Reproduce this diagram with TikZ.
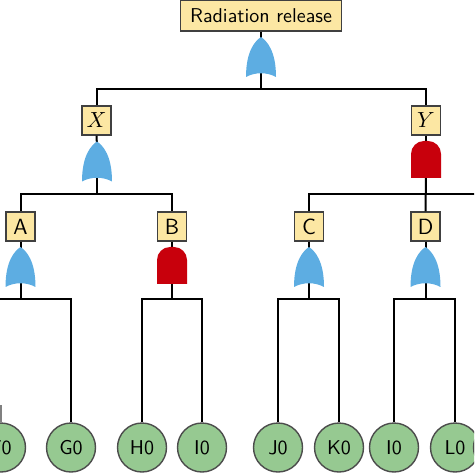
\documentclass[tikz,border=0pt]{standalone}
\definecolor{boxyellow}{RGB}{252,231,163}
\definecolor{orblue}{RGB}{93,173,226}
\definecolor{andred}{RGB}{200,0,12}
\definecolor{leafgreen}{RGB}{150,201,145}
\tikzset{
  event/.style={draw=black!75,fill=boxyellow,line width=0.7pt,minimum width=14.5pt,minimum height=14.5pt,inner sep=2pt,font=\sffamily\fontsize{11}{13}\selectfont},
  leaf/.style={circle,draw=black!70,fill=leafgreen,line width=0.7pt,minimum size=24.5pt,inner sep=0pt,font=\sffamily},
  orgate/.pic={\fill[orblue] (-7.5pt,-10pt) .. controls (-7.5pt,3pt) and (-3pt,8pt) .. (0pt,10pt) .. controls (3pt,8pt) and (7.5pt,3pt) .. (7.5pt,-10pt) .. controls (3pt,-7.5pt) and (-3pt,-7.5pt) .. (-7.5pt,-10pt) -- cycle;},
  andgate/.pic={\fill[andred] (-7.5pt,-9.25pt) -- (-7.5pt,2.75pt) arc[start angle=180,end angle=90,radius=6.5pt] -- (1pt,9.25pt) arc[start angle=90,end angle=0,radius=6.5pt] -- (7.5pt,-9.25pt) -- cycle;}
}
\begin{document}
\begin{tikzpicture}[x=0.5pt,y=-0.5pt,line width=1pt]
  \useasboundingbox (0,0) rectangle (474,474);
  \clip (0,0) rectangle (474,474);
  \node[event,minimum width=80.5pt,minimum height=15.5pt,font=\sffamily] (R) at (261,15.5) {Radiation release};
  \node[event] (X) at (96.5,120.5) {$X$};
  \node[event] (Y) at (426,120.5) {$Y$};
  \node[event] (A) at (20.5,226.5) {A};
  \node[event] (B) at (172,226.5) {B};
  \node[event] (C) at (309,226.5) {C};
  \node[event] (D) at (425.5,226.5) {D};
  \coordinate (gR) at (261,57);
  \coordinate (gX) at (97,161.5);
  \coordinate (gY) at (426,159.5);
  \coordinate (gA) at (20.5,267);
  \coordinate (gB) at (172,265.5);
  \coordinate (gC) at (309,267);
  \coordinate (gD) at (425.5,267);
  \node[leaf] (F0) at (1,447.5) {F0};
  \node[leaf] (G0) at (71,447.5) {G0};
  \node[leaf] (H0) at (142,447.5) {H0};
  \node[leaf] (I0) at (202,447.5) {I0};
  \node[leaf] (J0) at (278,447.5) {J0};
  \node[leaf] (K0) at (339,447.5) {K0};
  \node[leaf] (I0b) at (394,447.5) {I0};
  \node[leaf] (L0) at (455,447.5) {L0};
  \node[leaf] (M0) at (498,447.5) {};
  \coordinate (aleft) at (-30,299);
  \coordinate (yright) at (490,194);
  \coordinate (fstub) at (1,405);

  \draw (R) -- (gR);
  \draw (gR) -- (gR |- 0,89) -| (X);
  \draw (gR |- 0,89) -| (Y);
  \draw (X) -- (gX);
  \draw (Y) -- (gY);
  \draw (gX) -- (gX |- 0,194) -| (A);
  \draw (gX |- 0,194) -| (B);
  \draw (gY) -- (gY |- 0,194) -| (C);
  \draw (gY |- 0,194) -- (yright);
  \draw (gY) -- (D);
  \draw (A) -- (gA);
  \draw (B) -- (gB);
  \draw (C) -- (gC);
  \draw (D) -- (gD);
  \draw (gA) -- (gA |- 0,299) -| (G0);
  \draw (gA |- 0,299) -- (aleft);
  \draw (gB) -- (gB |- 0,299) -| (H0);
  \draw (gB |- 0,299) -| (I0);
  \draw (gC) -- (gC |- 0,299) -| (J0);
  \draw (gC |- 0,299) -| (K0);
  \draw (gD) -- (gD |- 0,299) -| (I0b);
  \draw (gD |- 0,299) -| (L0);
  \draw[gray] (fstub) -- (F0);

  \pic at (gR) {orgate};
  \pic at (gX) {orgate};
  \pic at (gY) {andgate};
  \pic at (gA) {orgate};
  \pic at (gB) {andgate};
  \pic at (gC) {orgate};
  \pic at (gD) {orgate};
\end{tikzpicture}
\end{document}
